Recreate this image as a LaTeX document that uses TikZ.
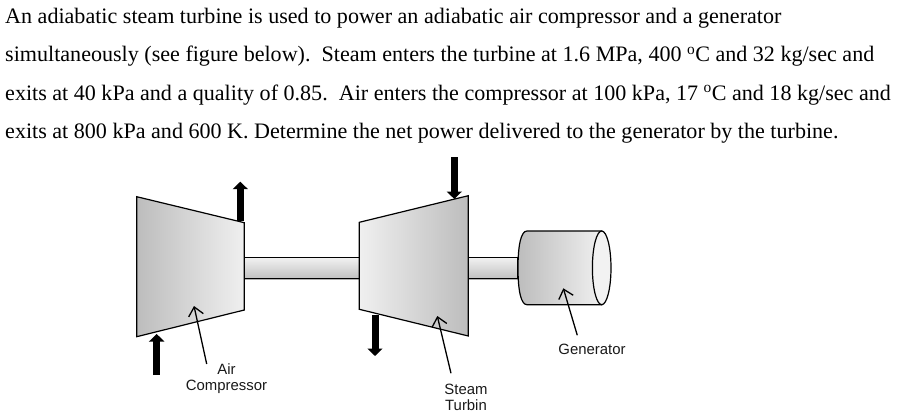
\documentclass[tikz,border=0pt]{standalone}
\usepackage{fontspec}
\setmainfont{Liberation Serif}
\newfontfamily\labelfont{Liberation Sans}
\usetikzlibrary{arrows.meta}
\tikzset{
  body/.style={anchor=base west,inner sep=0pt,font=\fontsize{22.08}{24}\selectfont},
  lbl/.style={inner sep=0pt,align=center,text=black!90,font=\labelfont\fontsize{14.9}{16.5}\selectfont},
  flow/.style={line width=7pt,-{Triangle[width=15pt,length=7.5pt]}},
  pointer/.style={line width=1.3pt,-{Straight Barb[length=8.5pt,width=15pt,line width=1.3pt]}},
  outline/.style={draw=black,line width=1.2pt,line join=miter},
  shadowline/.style={draw=black!30,line width=1.4pt},
}
\begin{document}
\begin{tikzpicture}[x=1pt,y=-1pt]
\useasboundingbox (0,0) rectangle (897,420);
% text
\node[body] (l1) at (5,23.5) {An adiabatic steam turbine is used to power an adiabatic air compressor and a generator};
\node[body] (l2) at (5,62) {simultaneously (see figure below).\ \ Steam enters the turbine at 1.6 MPa, 400 \textsuperscript{o}C and 32 kg/sec and};
\node[body] (l3) at (5,100) {exits at 40 kPa and a quality of 0.85.\ \ Air enters the compressor at 100 kPa, 17 \textsuperscript{o}C and 18 kg/sec and};
\node[body] (l4) at (5,138) {exits at 800 kPa and 600 K. Determine the net power delivered to the generator by the turbine.};
% shafts
\draw[shadowline] (245,279.5) -- (360,279.5);
\draw[shadowline] (468,279.5) -- (518,279.5);
\path[outline,top color=black!5,bottom color=black!24] (244.3,257.3) rectangle (359.5,278.3);
\path[outline,top color=black!5,bottom color=black!24] (468.3,257.3) rectangle (518,278.3);
% compressor
\path[outline,left color=black!26,right color=black!6] (136.7,196.7) -- (244.3,222.7) -- (244.3,310) -- (136.7,336.7) -- cycle;
% turbine
\path[outline,left color=black!6,right color=black!26] (359.3,222.3) -- (468.3,195.7) -- (468.3,336) -- (359.3,309.3) -- cycle;
% generator
\path[outline,left color=black!26,right color=black!6]
  (601.7,231) -- (527,231) .. controls (521,231) and (518,245) .. (518,268)
  .. controls (518,291) and (521,304.7) .. (527,304.7) -- (601.7,304.7) -- cycle;
\path[outline,fill=black!5] (601.7,267.85) ellipse [x radius=9.3,y radius=36.85];
% flow arrows
\coordinate (cinA) at (156.7,375);
\coordinate (cinB) at (156.7,334);
\coordinate (coutA) at (240.3,221);
\coordinate (coutB) at (240.3,181.7);
\coordinate (tinA) at (454.3,157.3);
\coordinate (tinB) at (454.3,199);
\coordinate (toutA) at (375,315);
\coordinate (toutB) at (375,356);
\draw[flow] (cinA) -- (cinB);
\draw[flow] (coutA) -- (coutB);
\draw[flow] (tinA) -- (tinB);
\draw[flow] (toutA) -- (toutB);
% labels
\node[lbl] (air) at (226.5,378.5) {Air\\[-0.5pt]Compressor};
\node[lbl] (steam) at (466,397.5) {Steam\\[-0.5pt]Turbin};
\node[lbl] (gen) at (592,349) {Generator};
% pointers
\coordinate (airF) at (206.7,364);
\coordinate (airT) at (194,306);
\coordinate (steamF) at (451,373.3);
\coordinate (steamT) at (437.3,316);
\coordinate (genF) at (577.3,335.3);
\coordinate (genT) at (563.3,288.3);
\draw[pointer] (airF) -- (airT);
\draw[pointer] (steamF) -- (steamT);
\draw[pointer] (genF) -- (genT);
\end{tikzpicture}
\end{document}
